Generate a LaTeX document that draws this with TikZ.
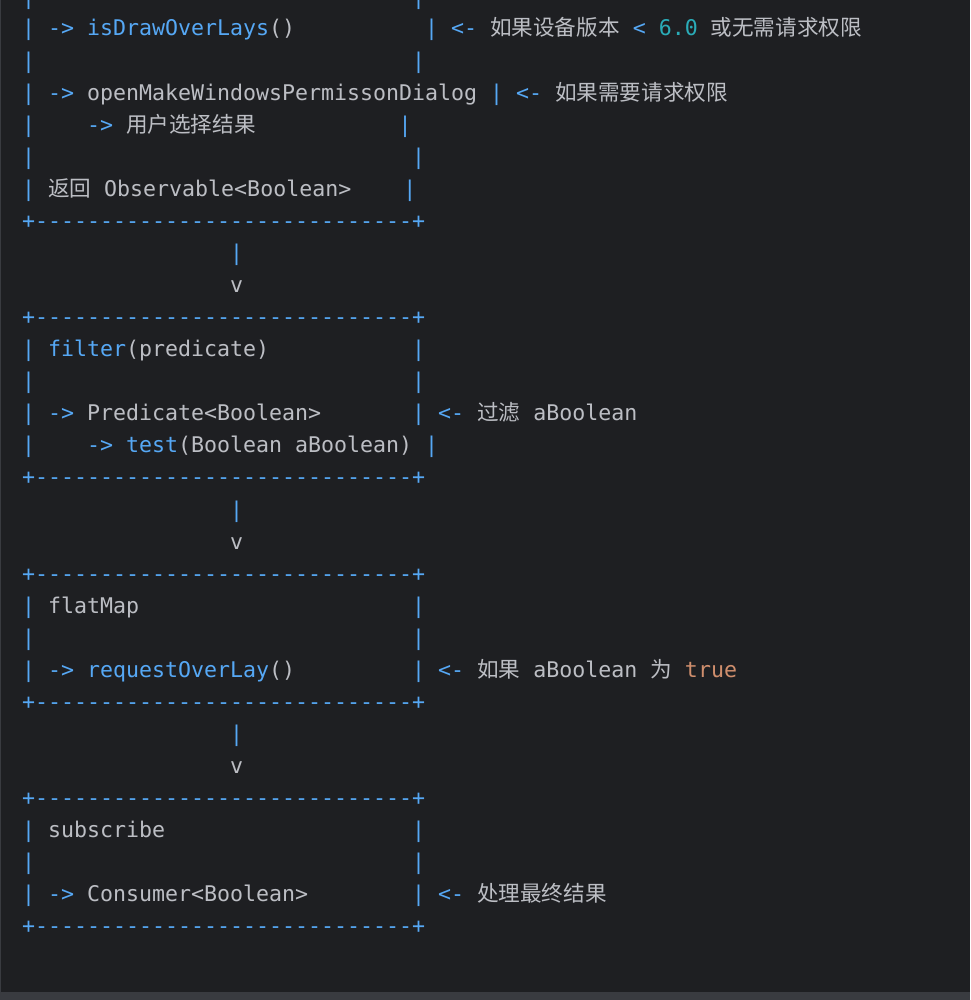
\documentclass[tikz,border=0pt]{standalone}
\usepackage{fontspec}
\setmonofont{DejaVu Sans Mono}
\newfontfamily\mycjk{Noto Sans CJK SC}
\definecolor{bg}{HTML}{1E1F22}
\definecolor{fg}{HTML}{BCBEC4}
\definecolor{bl}{HTML}{56A8F5}
\definecolor{tl}{HTML}{2AACB8}
\definecolor{org}{HTML}{CF8E6D}
\definecolor{barc}{HTML}{393B40}
\newcommand\myb[1]{\textcolor{bl}{#1}}
\newcommand\myt[1]{\textcolor{tl}{#1}}
\newcommand\myo[1]{\textcolor{org}{#1}}
\newcommand\spc[1]{\hspace*{\dimexpr #1\dimexpr 13.004pt\relax\relax}}
\newcommand\boxline{\myb{+-----------------------------+}}
\newcommand\emptyrow{\myb{|}\spc{29}\myb{|}}
\begin{document}
\begin{tikzpicture}[x=1pt,y=-1pt,
  ln/.style={anchor=base west,inner sep=0pt,outer sep=0pt,text=fg,
    font=\ttfamily\fontsize{21.6}{26}\selectfont\frenchspacing}]
\fill[bg] (0,0) rectangle (970,1000);
\begin{scope}
\clip (0,0) rectangle (970,1000);
\def\py#1{36+32.07*#1}
\node[ln] (rm1) at (22,{\py{-1}+1}) {\emptyrow};
\node[ln] (r0) at (22,{\py{0}}) {\myb{|} \myb{->} \myb{isDrawOverLays}()\spc{10}\myb{|} \myb{<-} {\mycjk 如果设备版本} \myb{<} \myt{6.0} {\mycjk 或无需请求权限}};
\node[ln] (r1) at (22,{\py{1}}) {\emptyrow};
\node[ln] (r2) at (22,{\py{2}}) {\myb{|} \myb{->} openMakeWindowsPermissonDialog \myb{|} \myb{<-} {\mycjk 如果需要请求权限}};
\node[ln] (r3) at (22,{\py{3}}) {\myb{|}\spc{4}\myb{->} {\mycjk 用户选择结果}\spc{11}\myb{|}};
\node[ln] (r4) at (22,{\py{4}}) {\emptyrow};
\node[ln] (r5) at (22,{\py{5}}) {\myb{|} {\mycjk 返回} Observable<Boolean>\spc{4}\myb{|}};
\node[ln] (r6) at (22,{\py{6}}) {\boxline};
\node[ln] (r7) at (22,{\py{7}}) {\spc{16}\myb{|}};
\node[ln] (r8) at (22,{\py{8}}) {\spc{16}v};
\node[ln] (r9) at (22,{\py{9}}) {\boxline};
\node[ln] (r10) at (22,{\py{10}}) {\myb{|} \myb{filter}(predicate)\spc{11}\myb{|}};
\node[ln] (r11) at (22,{\py{11}}) {\emptyrow};
\node[ln] (r12) at (22,{\py{12}}) {\myb{|} \myb{->} Predicate<Boolean>\spc{7}\myb{|} \myb{<-} {\mycjk 过滤} aBoolean};
\node[ln] (r13) at (22,{\py{13}}) {\myb{|}\spc{4}\myb{->} \myb{test}(Boolean aBoolean) \myb{|}};
\node[ln] (r14) at (22,{\py{14}}) {\boxline};
\node[ln] (r15) at (22,{\py{15}}) {\spc{16}\myb{|}};
\node[ln] (r16) at (22,{\py{16}}) {\spc{16}v};
\node[ln] (r17) at (22,{\py{17}}) {\boxline};
\node[ln] (r18) at (22,{\py{18}}) {\myb{|} flatMap\spc{21}\myb{|}};
\node[ln] (r19) at (22,{\py{19}}) {\emptyrow};
\node[ln] (r20) at (22,{\py{20}}) {\myb{|} \myb{->} \myb{requestOverLay}()\spc{9}\myb{|} \myb{<-} {\mycjk 如果} aBoolean {\mycjk 为} \myo{true}};
\node[ln] (r21) at (22,{\py{21}}) {\boxline};
\node[ln] (r22) at (22,{\py{22}}) {\spc{16}\myb{|}};
\node[ln] (r23) at (22,{\py{23}}) {\spc{16}v};
\node[ln] (r24) at (22,{\py{24}}) {\boxline};
\node[ln] (r25) at (22,{\py{25}}) {\myb{|} subscribe\spc{19}\myb{|}};
\node[ln] (r26) at (22,{\py{26}}) {\emptyrow};
\node[ln] (r27) at (22,{\py{27}}) {\myb{|} \myb{->} Consumer<Boolean>\spc{8}\myb{|} \myb{<-} {\mycjk 处理最终结果}};
\node[ln] (r28) at (22,{\py{28}}) {\boxline};
\fill[barc] (0,992) rectangle (970,1000);
\fill[barc] (0,0) rectangle (1,992);
\end{scope}
\end{tikzpicture}
\end{document}
